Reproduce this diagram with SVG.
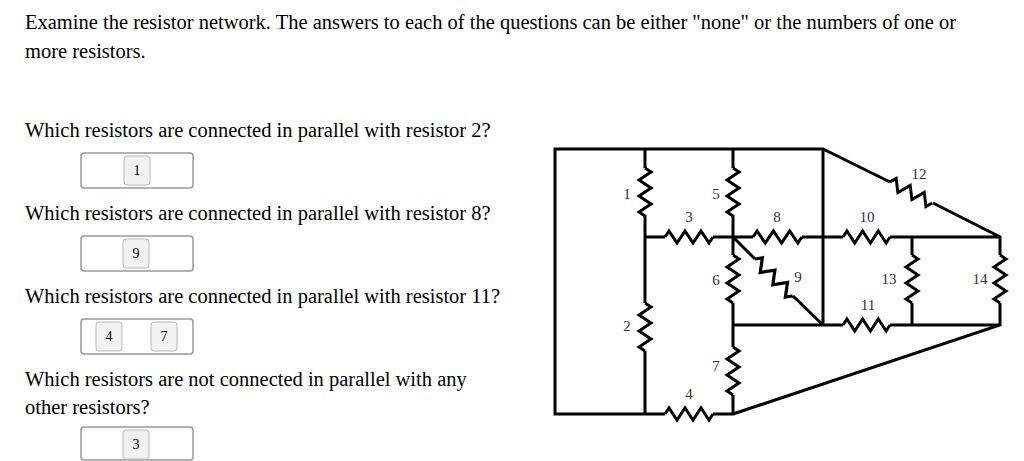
<svg xmlns="http://www.w3.org/2000/svg" xmlns:xlink="http://www.w3.org/1999/xlink" width="1024" height="461" viewBox="0 0 1024 461">
<style>
.t{font-family:"Liberation Serif","Times New Roman",serif;font-size:20.5px;fill:#000}
.l{font-family:"Liberation Serif","Times New Roman",serif;font-size:15px;fill:#333}
.w{stroke:#000;stroke-width:3;fill:none;stroke-linejoin:miter}
.box{fill:#fff;stroke:#999;stroke-width:1.5}
.btn{fill:#f2f2f2;stroke:#bbb;stroke-width:1}
.bt{font-family:"Liberation Serif","Times New Roman",serif;font-size:14px;fill:#000;text-anchor:middle}
</style>
<defs>
<path id="r" class="w" d="M0,0 l4,-6 l8,12 l8,-12 l8,12 l8,-12 l8,12 l4,-6"/>
</defs>
<rect width="1024" height="461" fill="#fff"/>
<text class="t" x="25" y="29">Examine the resistor network. The answers to each of the questions can be either "none" or the numbers of one or</text>
<text class="t" x="25" y="58">more resistors.</text>
<text class="t" x="25" y="137">Which resistors are connected in parallel with resistor 2?</text>
<text class="t" x="25" y="220">Which resistors are connected in parallel with resistor 8?</text>
<text class="t" x="25" y="303">Which resistors are connected in parallel with resistor 11?</text>
<text class="t" x="25" y="386">Which resistors are not connected in parallel with any</text>
<text class="t" x="25" y="414">other resistors?</text>
<g id="ans1"><rect class="box" x="81" y="153" width="112" height="35" rx="3"/><rect class="btn" x="124" y="156" width="26" height="29" rx="3"/><text class="bt" x="137" y="175">1</text></g>
<g id="ans2"><rect class="box" x="81" y="236" width="112" height="35" rx="3"/><rect class="btn" x="123" y="239" width="26" height="29" rx="3"/><text class="bt" x="136" y="258">9</text></g>
<g id="ans3"><rect class="box" x="81" y="319" width="112" height="35" rx="3"/><rect class="btn" x="96" y="322" width="26" height="29" rx="3"/><text class="bt" x="109" y="341">4</text><rect class="btn" x="151" y="322" width="26" height="29" rx="3"/><text class="bt" x="164" y="341">7</text></g>
<g id="ans4"><rect class="box" x="81" y="427" width="112" height="33" rx="3"/><rect class="btn" x="123" y="430" width="26" height="29" rx="3"/><text class="bt" x="136" y="449">3</text></g>
<g id="wires">
<path class="w" d="M645,168 V149 H555 V414 H665 M713,414 H733 V395 M733,347 V303 M733,255 V215 M733,168 V149 H645 M733,149 H823 L890,182 M933,203 L1000,237 V255 M1000,303 V325 L733,414 M645,215 V303 M645,351 V414 M645,237 H665 M713,237 H753 M802,237 H843 M890,237 H1000 M823,149 V325 H843 M890,325 H1000 M733,325 H823 M912,237 V255 M912,303 V325 M733,237 L755,259 M793,296 L823,325"/>
</g>
<g id="resistors">
<use xlink:href="#r" transform="translate(645,168) rotate(90)"/>
<use xlink:href="#r" transform="translate(645,303) rotate(90)"/>
<use xlink:href="#r" transform="translate(733,168) rotate(90)"/>
<use xlink:href="#r" transform="translate(733,255) rotate(90)"/>
<use xlink:href="#r" transform="translate(733,347) rotate(90)"/>
<use xlink:href="#r" transform="translate(665,237)"/>
<use xlink:href="#r" transform="translate(665,414)"/>
<use xlink:href="#r" transform="translate(753,237) scale(1.02,1)"/>
<use xlink:href="#r" transform="translate(843,237) scale(0.98,1)"/>
<use xlink:href="#r" transform="translate(843,325) scale(0.98,1)"/>
<use xlink:href="#r" transform="translate(912,255) rotate(90)"/>
<use xlink:href="#r" transform="translate(1000,255) rotate(90)"/>
<use xlink:href="#r" transform="translate(890,182) rotate(26.5) scale(0.98,1)"/>
<use xlink:href="#r" transform="translate(755,259) rotate(44.4) scale(1.1,1)"/>
</g>
<g id="labels">
<text class="l" x="627" y="199" text-anchor="middle">1</text>
<text class="l" x="627" y="331" text-anchor="middle">2</text>
<text class="l" x="689" y="222" text-anchor="middle">3</text>
<text class="l" x="689" y="399" text-anchor="middle">4</text>
<text class="l" x="716" y="199" text-anchor="middle">5</text>
<text class="l" x="716" y="285" text-anchor="middle">6</text>
<text class="l" x="716" y="371" text-anchor="middle">7</text>
<text class="l" x="777" y="222" text-anchor="middle">8</text>
<text class="l" x="798" y="282" text-anchor="middle">9</text>
<text class="l" x="867" y="222" text-anchor="middle">10</text>
<text class="l" x="868" y="310" text-anchor="middle">11</text>
<text class="l" x="919" y="179" text-anchor="middle">12</text>
<text class="l" x="889" y="284" text-anchor="middle">13</text>
<text class="l" x="980" y="284" text-anchor="middle">14</text>
</g>
</svg>
